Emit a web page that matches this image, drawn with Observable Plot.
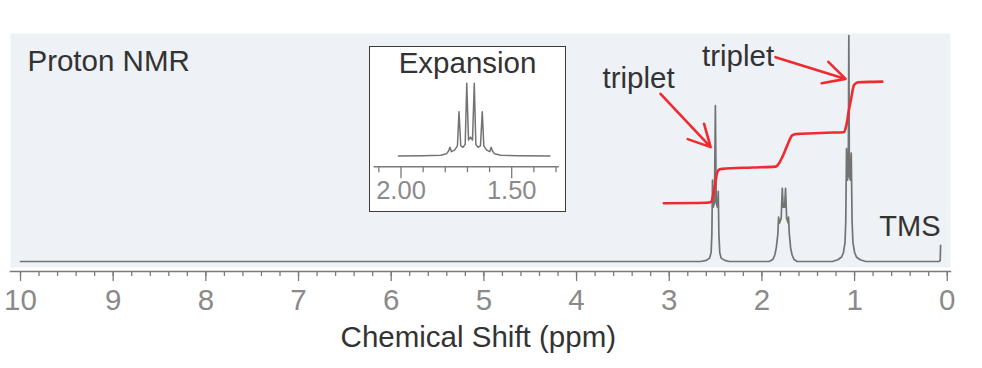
<!DOCTYPE html>
<html><head><meta charset="utf-8">
<script src="https://cdn.jsdelivr.net/npm/d3@7"></script>
<script src="https://cdn.jsdelivr.net/npm/@observablehq/plot@0.6"></script>
<style>
body{margin:0;background:#fff;font-family:"Liberation Sans",Arial,Helvetica,sans-serif;}
#wrap{position:relative;width:982px;height:368px;overflow:hidden;}
#inset{position:absolute;left:369px;top:46px;width:197px;height:166px;box-sizing:border-box;border:1.5px solid #3c3c3c;background:#fff;}
#inset svg,#main svg{display:block;}
</style></head><body>
<div id="wrap"><div id="main"></div><div id="inset"></div></div>
<script>
// ---- data (ppm, intensity) ----
const majorTicks = [10, 9, 8, 7, 6, 5, 4, 3, 2, 1, 0];
const minorTicks = d3.range(0, 51).map(i => +(i * 0.2).toFixed(1));
const baselineStart = [[10.0, 0], [6.0, 0], [2.66, 0]];
const triplet25 = [[2.60,0.5],[2.565,1.5],[2.548,4],[2.540,12],[2.533,36],[2.526,24],[2.512,26],[2.502,69],[2.493,26],[2.480,24],[2.471,31],[2.464,12],[2.455,4],[2.44,1.5],[2.40,0.5],[2.35,0]];
const multiplet177 = [[1.92,0],[1.88,1],[1.860,3],[1.845,6],[1.828,12],[1.820,19.6],[1.810,17],[1.792,19],[1.780,32.4],[1.770,24],[1.755,24],[1.745,32.4],[1.733,19],[1.716,17],[1.713,19.6],[1.704,12],[1.690,6],[1.675,3],[1.655,1],[1.62,0]];
const triplet106 = [[1.24,0],[1.18,0.8],[1.14,2],[1.12,4],[1.103,8.5],[1.095,18],[1.087,50],[1.077,36],[1.068,38],[1.062,100],[1.056,38],[1.046,36],[1.036,48],[1.027,18],[1.018,8.5],[1.00,4],[0.98,2],[0.94,0.8],[0.88,0]];
const tmsPeak = [[0.09,0],[0.076,0.4],[0.072,7.1]];
const integral = [[3.058,25.8],[2.60,26.0],[2.554,26.2],[2.530,28.5],[2.505,34],[2.482,39.5],[2.455,40.8],[2.428,41.0],[2.10,41.6],[1.853,42.0],[1.815,43.5],[1.780,46.2],[1.725,51.5],[1.673,55.8],[1.630,56.4],[1.583,56.5],[1.30,57.0],[1.116,57.2],[1.090,60],[1.062,66.8],[1.035,72.5],[1.008,77.9],[0.980,79.0],[0.954,79.3],[0.80,79.5],[0.701,79.6]];
const arrows = [
  {x1: 3.094, y1: 74.2, x2: 2.553, y2: 50.6},
  {x1: 1.853, y1: 90.4, x2: 1.097, y2: 80.8}
];
const labelsStart = [{text: "Proton NMR", ppm: 9.925, v: 84.5}];
const labelsMiddle = [{text: "triplet", ppm: 3.331, v: 76.9}, {text: "triplet", ppm: 2.257, v: 86.7}];
const labelsEnd = [{text: "TMS", ppm: 0.072, v: 11.5}];
const axisTitle = [{text: "Chemical Shift (ppm)", ppm: 5.06}];

// inset
const insetMajor = [2.0, 1.5];
const insetMinor = [2.1, 1.9, 1.8, 1.7, 1.6, 1.4, 1.3];
const insetSpectrum = [[2.012,0],[1.90,0.3],[1.82,1],[1.795,3],[1.785,7],[1.779,12],[1.772,6],[1.758,8],[1.745,14],[1.738,61],[1.730,14],[1.720,12],[1.710,16],[1.703,100],[1.695,22],[1.686,26],[1.677,22],[1.669,100],[1.662,16],[1.652,12],[1.641,14],[1.633,61],[1.626,14],[1.613,8],[1.599,6],[1.593,12],[1.587,7],[1.577,3],[1.55,1],[1.47,0.3],[1.327,0]];
const insetTitle = [{text: "Expansion", ppm: 1.6996, v: 113.8}];

const font = '"Liberation Sans", Arial, Helvetica, sans-serif';
const gray = "#7a7a7a";
const red = "#ee2b30";
const textColor = "#333";
const spectrum = [...baselineStart, ...triplet25, ...multiplet177, ...triplet106, ...tmsPeak].map(([ppm, v]) => ({ppm, v}));
const integ = integral.map(([ppm, v]) => ({ppm, v}));

const main = Plot.plot({
  width: 982, height: 368,
  marginTop: 33, marginBottom: 97, marginLeft: 10, marginRight: 32,
  style: {fontFamily: font, background: "transparent", overflow: "visible"},
  x: {domain: [10.108, -0.035]},
  y: {domain: [-4.425, 100.885], axis: null},
  marks: [
    Plot.frame({fill: "#eef1f5", insetBottom: 4}),
    Plot.frame({anchor: "bottom", stroke: gray, strokeWidth: 1.5}),
    Plot.axisX({ticks: minorTicks, tickSize: 5, text: null, stroke: gray, strokeWidth: 1.3, label: null}),
    Plot.axisX({ticks: majorTicks, tickSize: 10, tickPadding: 8, fontSize: 29.5, fill: "#8a8a8a", stroke: gray, strokeWidth: 1.3, tickFormat: d => String(d), label: null}),
    Plot.line(spectrum, {x: "ppm", y: "v", stroke: "#737373", strokeWidth: 1.7}),
    Plot.line(integ, {x: "ppm", y: "v", stroke: red, strokeWidth: 2.6, curve: "monotone-x"}),
    Plot.arrow(arrows, {x1: "x1", y1: "y1", x2: "x2", y2: "y2", stroke: red, strokeWidth: 2.6, headLength: 14, headAngle: 55, bend: 0}),
    Plot.text(labelsStart, {x: "ppm", y: "v", text: "text", textAnchor: "start", lineAnchor: "bottom", fontSize: 29.5, fill: textColor}),
    Plot.text(labelsMiddle, {x: "ppm", y: "v", text: "text", textAnchor: "middle", lineAnchor: "bottom", fontSize: 29.5, fill: textColor}),
    Plot.text(labelsEnd, {x: "ppm", y: "v", text: "text", textAnchor: "end", lineAnchor: "bottom", fontSize: 29, fill: textColor}),
    Plot.text(axisTitle, {x: "ppm", text: "text", frameAnchor: "bottom", dy: 75, textAnchor: "middle", lineAnchor: "bottom", fontSize: 29.5, fill: textColor})
  ]
});
document.getElementById("main").append(main);

const inset = Plot.plot({
  width: 194, height: 163,
  marginTop: 35.8, marginBottom: 43.8, marginLeft: 3.8, marginRight: 6.5,
  style: {fontFamily: font, background: "transparent", overflow: "visible"},
  x: {domain: [2.1206, 1.2909]},
  y: {domain: [-14.7, 100], axis: null},
  marks: [
    Plot.frame({anchor: "bottom", stroke: gray, strokeWidth: 1.5}),
    Plot.axisX({ticks: insetMinor, tickSize: 6, text: null, stroke: gray, strokeWidth: 1.3, label: null}),
    Plot.axisX({ticks: insetMajor, tickSize: 12, tickPadding: 2.5, fontSize: 25.5, fill: "#8a8a8a", stroke: gray, strokeWidth: 1.3, tickFormat: d3.format(".2f"), label: null}),
    Plot.line(insetSpectrum.map(([ppm, v]) => ({ppm, v})), {x: "ppm", y: "v", stroke: "#737373", strokeWidth: 1.5}),
    Plot.text(insetTitle, {x: "ppm", y: "v", text: "text", textAnchor: "middle", lineAnchor: "bottom", fontSize: 29.5, fill: textColor})
  ]
});
document.getElementById("inset").append(inset);
</script>
</body></html>
